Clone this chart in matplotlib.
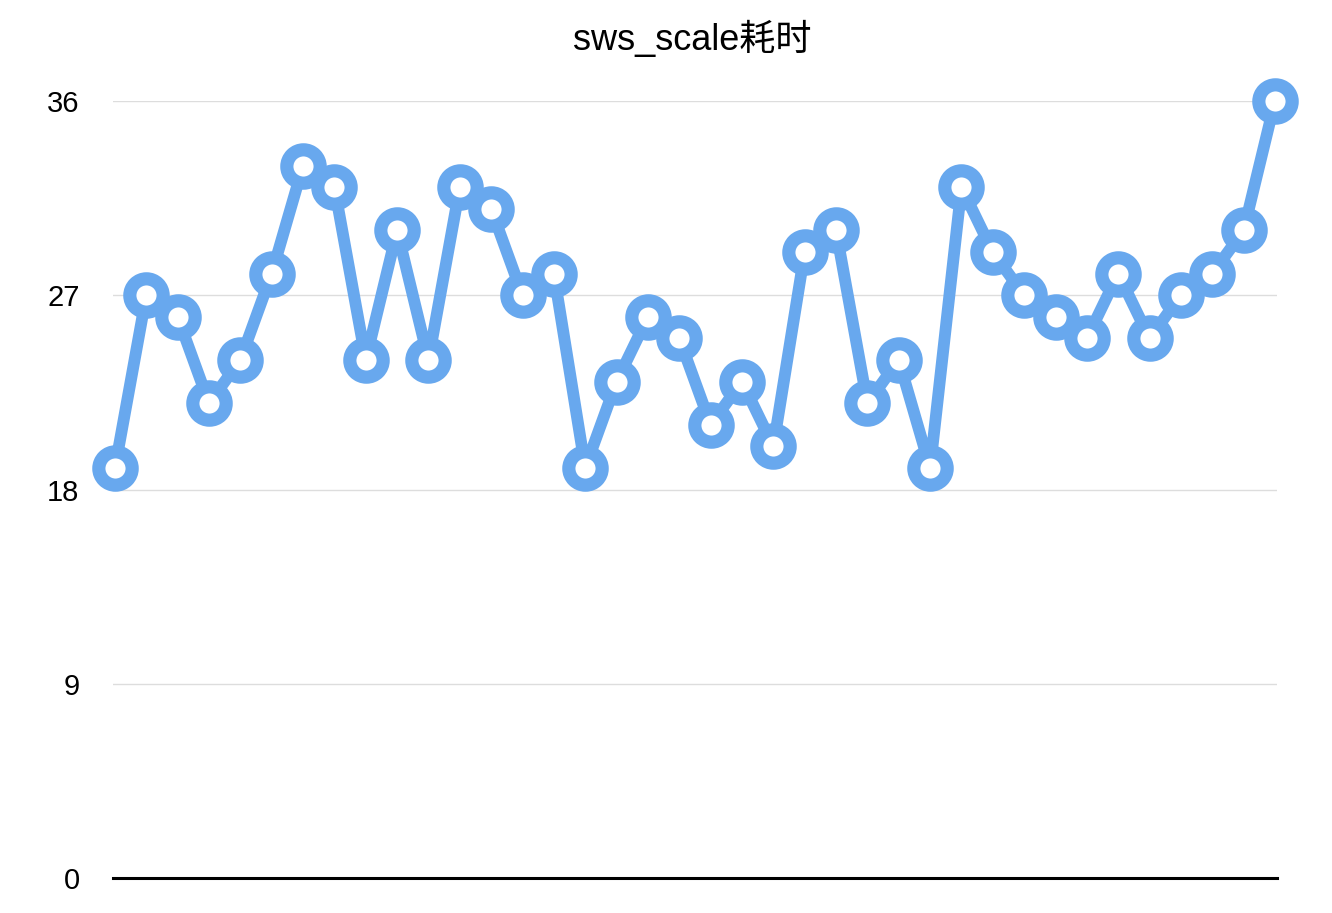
import matplotlib
matplotlib.use("Agg")
import matplotlib.pyplot as plt

plt.rcParams['font.family'] = ['Liberation Sans', 'Noto Sans CJK SC', 'DejaVu Sans']

# sws_scale cost per sample
values = [19, 27, 26, 22, 24, 28, 33, 32, 24, 30,
          24, 32, 31, 27, 28, 19, 23, 26, 25, 21,
          23, 20, 29, 30, 22, 24, 19, 32, 29, 27,
          26, 25, 28, 25, 27, 28, 30, 36]
y_ticks = [0, 9, 18, 27, 36]
title = "sws_scale耗时"

blue = "#68a8ee"

fig = plt.figure(figsize=(13.32, 9.13), dpi=100)
ax = fig.add_axes([0.0848, 0.0383, 0.8739, 0.8511])

x = list(range(len(values)))
ax.plot(x, values, color=blue, linewidth=8.5, marker='o', markersize=24,
        markerfacecolor='white', markeredgecolor=blue, markeredgewidth=9.5,
        clip_on=False, zorder=3)

ax.set_xlim(-0.064, len(values) - 1 + 0.064)
ax.set_ylim(0, 36)
ax.set_yticks(y_ticks)
ax.set_xticks([])
ax.tick_params(axis='y', length=0, pad=24, labelsize=21)
ax.grid(axis='y', color='#dddddd', linewidth=1)
ax.set_axisbelow(True)

for side in ['top', 'right', 'left']:
    ax.spines[side].set_visible(False)
ax.spines['bottom'].set_color('black')
ax.spines['bottom'].set_linewidth(2.2)

fig.text(0.52, 0.957, title, ha='center', va='center', fontsize=26)

fig.savefig("out.png", dpi=100, facecolor='white')
